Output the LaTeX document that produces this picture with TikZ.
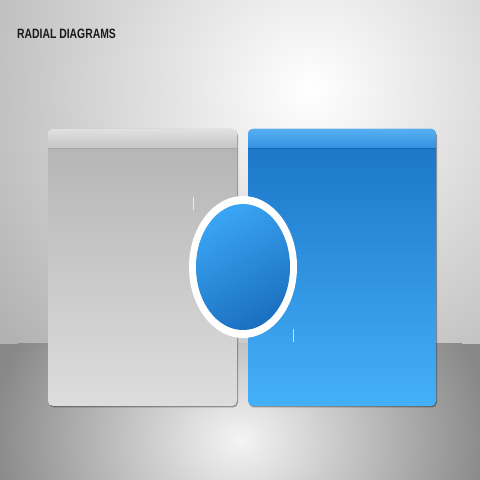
\documentclass[tikz,border=0pt]{standalone}
\usepackage{fontspec}
\setmainfont{Liberation Sans}
\usepackage{tikz}
\usetikzlibrary{shapes, arrows, calc, positioning, shadows}

\definecolor{wallgrey}{HTML}{AAAAAA}
\definecolor{floorgrey}{HTML}{888888}
\definecolor{floorlight}{HTML}{F4F4F4}
\definecolor{greytop}{HTML}{B3B3B3}
\definecolor{greybot}{HTML}{DDDDDD}
\definecolor{greyheadtop}{HTML}{E0E0E0}
\definecolor{greyheadbot}{HTML}{C6C6C6}
\definecolor{greyline}{HTML}{A6A6A6}
\definecolor{bluetop}{HTML}{1A73C5}
\definecolor{bluebot}{HTML}{44B0FA}
\definecolor{blueheadtop}{HTML}{55B0F2}
\definecolor{blueheadbot}{HTML}{3590E0}
\definecolor{blueline}{HTML}{1466B5}
\definecolor{corelight}{HTML}{3AA4F3}
\definecolor{coredark}{HTML}{1B70C0}

\begin{document}
\begin{tikzpicture}[x=1pt, y=1pt]
	\tikzstyle{panel} = [rounded corners=5pt, minimum height=277pt, inner sep=0pt,
		drop shadow={shadow xshift=1pt, shadow yshift=-1.5pt, opacity=0.35, fill=black}]
	\tikzstyle{header} = [minimum height=19pt, inner sep=0pt]
	\tikzstyle{ring} = [ellipse, fill=white, minimum width=108pt, minimum height=142pt, inner sep=0pt]
	\tikzstyle{core} = [ellipse, minimum width=94pt, minimum height=126pt, inner sep=0pt,
		top color=corelight, bottom color=coredark, shading angle=30]
	\tikzstyle{cursor} = [white, line width=0.4pt, opacity=0.7]

	\useasboundingbox (0,0) rectangle (480,480);

	% wall and floor
	\fill[wallgrey] (0,136) rectangle (480,480);
	\begin{scope}
		\clip (0,136) rectangle (480,480);
		\shade[inner color=white, outer color=wallgrey] (310,390) circle (430);
	\end{scope}
	\fill[floorgrey] (0,0) rectangle (480,136);
	\begin{scope}
		\clip (0,0) rectangle (480,136);
		\shade[inner color=floorlight, outer color=floorgrey] (240,40) ellipse (250 and 210);
	\end{scope}

	\node[anchor=base west, inner sep=0pt, xscale=0.77, text=black!90,
		font=\bfseries\fontsize{13.5}{16}\selectfont] (title) at (17,441.5) {RADIAL DIAGRAMS};

	% panels
	\node[panel, minimum width=189pt, top color=greytop, bottom color=greybot] (leftpanel) at (142.5,212.5) {};
	\node[panel, minimum width=188pt, top color=bluetop, bottom color=bluebot] (rightpanel) at (342,212.5) {};

	\begin{scope}
		\clip[rounded corners=5pt] (leftpanel.south west) rectangle (leftpanel.north east);
		\node[header, anchor=north, minimum width=189pt, top color=greyheadtop, bottom color=greyheadbot] (lefthead) at (leftpanel.north) {};
		\draw[greyline] (lefthead.south west) -- (lefthead.south east);
	\end{scope}
	\begin{scope}
		\clip[rounded corners=5pt] (rightpanel.south west) rectangle (rightpanel.north east);
		\node[header, anchor=north, minimum width=188pt, top color=blueheadtop, bottom color=blueheadbot] (righthead) at (rightpanel.north) {};
		\draw[blueline] (righthead.south west) -- (righthead.south east);
	\end{scope}

	% hub
	\node[ring] (hub) at (243,213) {};
	\node[core] (hubcore) at (hub) {};

	\draw[cursor] (193,270) -- (193,283);
	\draw[cursor] (293,138) -- (293,151);
\end{tikzpicture}
\end{document}
